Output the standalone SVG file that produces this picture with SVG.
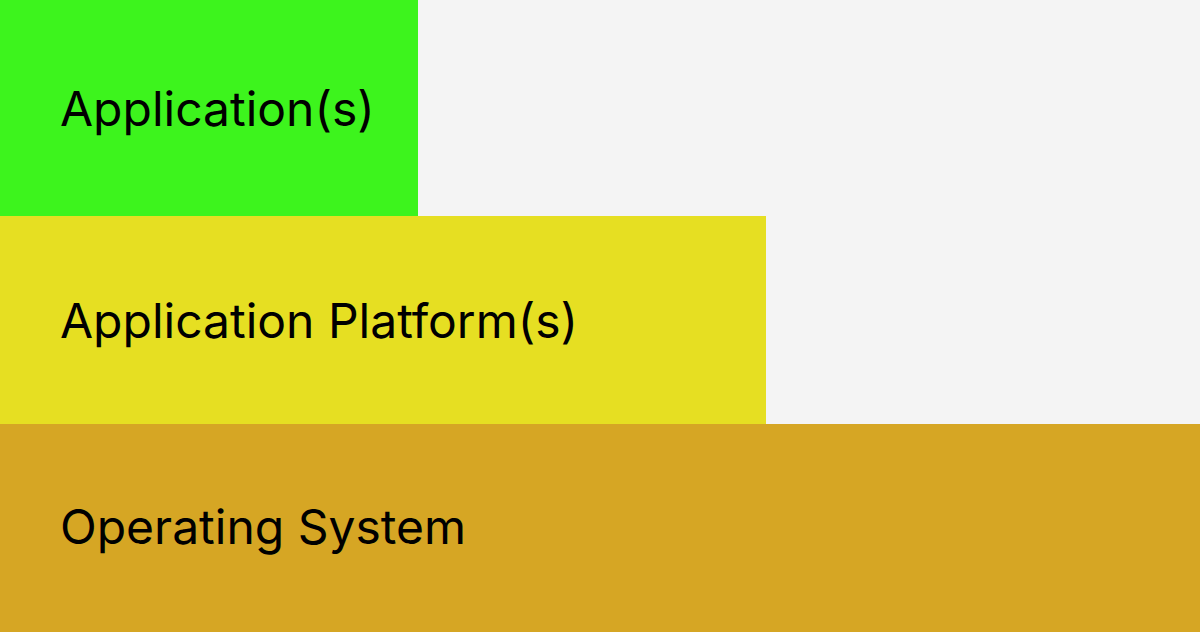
<svg xmlns="http://www.w3.org/2000/svg" width="1200" height="632" viewBox="0 0 1200 632">
<style>
.lbl{font-family:Inter,"Noto Sans",sans-serif;font-size:48px;fill:#000}
</style>
<rect x="0" y="0" width="1200" height="632" fill="#f4f4f4"/>
<g id="applications">
<rect x="0" y="0" width="418" height="216" fill="#3df41d"/>
<text class="lbl" x="60" y="126">Application(s)</text>
</g>
<g id="platforms">
<rect x="0" y="216" width="766" height="208" fill="#e6df22"/>
<text class="lbl" x="60" y="338">Application Platform(s)</text>
</g>
<g id="os">
<rect x="0" y="424" width="1200" height="208" fill="#d6a624"/>
<text class="lbl" x="60" y="544">Operating System</text>
</g>
<g id="connectors"/>
</svg>
